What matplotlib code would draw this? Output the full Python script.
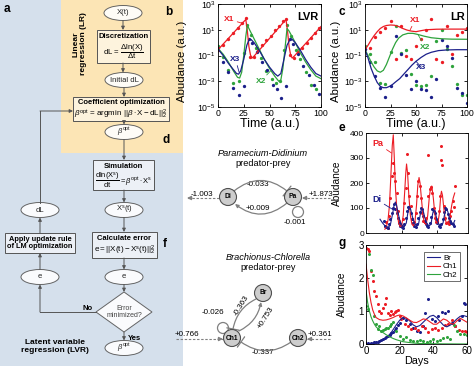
import matplotlib
matplotlib.use('Agg')
import matplotlib.pyplot as plt
import numpy as np
from matplotlib.patches import Ellipse, Rectangle, Polygon, Circle, FancyArrowPatch, ArrowStyle

plt.rcParams['font.family'] = ['Liberation Sans', 'DejaVu Sans']
plt.rcParams['mathtext.fontset'] = 'custom'
plt.rcParams['mathtext.rm'] = 'Liberation Sans'
plt.rcParams['mathtext.it'] = 'Liberation Sans:italic'
plt.rcParams['mathtext.bf'] = 'Liberation Sans:bold'

RED = '#ec1c24'
GREEN = '#2ea33c'
BLUE = '#1b1f8a'

# ---- panel b (LVR fit), values as log10 ----
b_t1 = [0, 27, 28.5, 30, 31.5, 33, 35, 66, 67.5, 69, 70.5, 72, 74, 100]
b_x1 = [-0.55, 1.8, 0.9, -0.3, -0.95, -1.2, -1.05, 1.8, 0.9, -0.3, -0.95, -1.2, -1.05, 1.25]
b_t2 = [0, 5, 10, 15, 19, 21, 23, 25, 27, 28.5, 30, 35, 40, 45, 50, 55, 59, 61, 63, 65, 67, 69, 75, 80, 85, 90, 95, 100]
b_x2 = [-0.45, -0.9, -1.5, -2.2, -2.7, -2.75, -2.3, -1.0, 0.5, 1.35, 1.1, 0.3, -0.5, -1.3, -2.0, -2.6, -3.0, -2.9, -2.0, -0.5, 1.1, 0.9, 0.0, -0.8, -1.5, -2.1, -2.6, -2.8]
b_t3 = [0, 5, 10, 15, 18, 20, 22, 25, 28, 30, 32, 35, 40, 45, 50, 55, 58, 61, 64, 67, 70, 72, 75, 80, 85, 90, 95, 100]
b_x3 = [-0.5, -1.0, -1.6, -2.1, -2.4, -2.45, -2.2, -1.3, -0.2, 0.2, 0.25, 0.0, -0.6, -1.3, -1.9, -2.4, -2.6, -2.4, -1.3, -0.2, 0.25, 0.25, 0.0, -0.6, -1.3, -1.9, -2.4, -2.6]
b_d1t = [0, 5, 10, 15, 19, 23, 27, 31, 35, 39, 43, 47, 51, 55, 59, 63, 66, 70, 74, 78, 82, 86, 90, 94, 98]
b_d1 = [-0.55, -0.15, 0.3, 0.75, 1.15, 1.5, 1.9, -1.1, -1.1, -0.6, -0.2, 0.2, 0.55, 0.95, 1.3, 1.65, 1.85, -0.95, -1.2, -0.7, -0.4, 0.0, 0.35, 0.75, 1.15]
b_d2t = [0, 5, 10, 15, 20, 25, 28, 32, 37, 42, 47, 52, 56, 60, 64, 67, 71, 76, 80, 85, 90, 95]
b_d2 = [-0.3, -1.1, -2.1, -3.1, -3.0, -0.8, 1.4, 0.6, -0.4, -1.2, -2.2, -2.8, -3.1, -3.0, -0.6, 1.4, 0.5, -0.6, -1.3, -2.3, -3.3, -3.6]
b_d3t = [0, 5, 10, 15, 20, 25, 30, 33, 38, 43, 48, 53, 57, 61, 66, 70, 73, 78, 83, 88, 93, 98]
b_d3 = [-0.4, -1.5, -2.3, -3.5, -4.1, -3.4, 0.3, 0.0, -0.7, -1.5, -2.1, -3.3, -3.6, -4.3, -3.4, 0.3, -0.1, -0.9, -1.8, -2.5, -3.3, -4.0]

# ---- panel c (LR fit), values as log10 ----
c_t1 = [0, 3, 6, 9, 12, 15, 18, 21, 25, 29, 33, 37, 41, 45, 50, 55, 60, 70, 80, 100]
c_x1 = [-0.55, -0.2, 0.2, 0.55, 0.85, 1.1, 1.25, 1.33, 1.37, 1.35, 1.25, 1.1, 0.98, 0.9, 0.85, 0.93, 1.0, 1.04, 1.05, 1.05]
c_t2 = [0, 3, 6, 9, 12, 15, 18, 21, 24, 27, 30, 33, 37, 42, 47, 52, 58, 65, 75, 85, 100]
c_x2 = [-0.55, -1.0, -1.5, -1.9, -2.2, -2.3, -2.15, -1.7, -1.1, -0.5, 0.0, 0.35, 0.6, 0.72, 0.72, 0.63, 0.5, 0.38, 0.3, 0.27, 0.26]
c_t3 = [0, 3, 6, 9, 12, 15, 18, 21, 24, 27, 30, 34, 38, 42, 46, 50, 55, 60, 65, 72, 80, 90, 100]
c_x3 = [-0.55, -1.2, -2.0, -2.6, -3.1, -3.4, -3.5, -3.5, -3.4, -3.25, -3.05, -2.8, -2.45, -2.1, -1.75, -1.45, -1.15, -0.9, -0.75, -0.62, -0.57, -0.55, -0.55]
c_dt = [0, 5, 10, 15, 20, 25, 30, 35, 40, 45, 50, 55, 60, 65, 70, 75, 80, 85, 90, 95, 100]
c_d1 = [-0.5, -0.45, 0.4, 0.85, 1.1, 1.7, -1.3, 1.3, -1.0, -1.3, -0.3, 0.3, 1.0, 1.8, -1.3, -1.5, 1.3, -0.9, 0.6, 0.8, 1.1]
c_d2 = [-0.3, -0.9, -1.5, -3.1, -3.2, -0.7, 1.3, -0.8, -0.6, -2.4, -3.3, -3.4, -3.3, -2.6, 0.1, 1.0, -0.5, -1.8, -3.2, -4.1, -4.1]
c_d3 = [-0.5, -1.5, -2.6, -3.5, -4.2, -3.4, 0.5, -0.9, -2.5, -3.6, -3.0, -3.6, -3.7, -4.2, -2.8, 0.2, -0.3, -1.2, -3.5, -3.9, -4.7]

# ---- panel e (Paramecium / Didinium) ----
e_pa_t = [7.4, 8.0, 8.6, 9.2, 9.8, 10.3, 10.7, 11.1, 11.6, 12.2, 12.8, 13.4, 14.0, 14.6, 15.2, 15.6, 15.9, 16.3, 16.8, 17.4, 18.0, 18.6, 19.2, 19.8, 20.3, 20.8, 21.2, 21.8, 22.4, 23.0, 23.6, 24.2, 24.8, 25.3, 25.8, 26.4, 27.0, 27.6, 28.2, 28.8, 29.3, 29.6, 30.0, 30.6, 31.2, 31.8, 32.4, 33.0, 33.6, 34.2, 34.8]
e_pa = [15, 25, 50, 110, 240, 350, 393, 300, 170, 80, 40, 25, 30, 70, 170, 240, 276, 240, 150, 70, 35, 28, 45, 110, 190, 222, 200, 130, 65, 38, 35, 70, 140, 180, 188, 140, 75, 40, 40, 80, 150, 167, 150, 90, 50, 35, 40, 70, 110, 140, 160]
e_di_t = [5.5, 6.5, 7.5, 8.5, 9.5, 10.3, 11.0, 11.5, 12.0, 12.7, 13.4, 14.2, 15.0, 15.8, 16.4, 16.9, 17.5, 18.2, 19.0, 19.8, 20.6, 21.3, 21.8, 22.4, 23.1, 23.9, 24.7, 25.5, 26.0, 26.5, 27.1, 27.8, 28.6, 29.4, 30.2, 30.9, 31.5, 32.1, 32.8, 33.6, 34.4, 34.8]
e_di = [55, 40, 28, 22, 30, 70, 110, 124, 110, 75, 45, 30, 25, 40, 80, 107, 95, 65, 40, 28, 35, 75, 100, 90, 60, 38, 28, 35, 70, 93, 85, 55, 35, 28, 40, 80, 100, 85, 55, 35, 40, 50]
e_pa_dt = [7.5, 8.0, 8.5, 9.0, 9.5, 10.0, 10.5, 11.0, 11.5, 12.0, 12.5, 13.0, 13.5, 14.0, 14.5, 15.0, 15.5, 16.0, 16.5, 17.0, 17.5, 18.0, 18.5, 19.0, 19.5, 20.0, 20.5, 21.0, 21.5, 22.0, 22.5, 23.0, 23.5, 24.4, 24.5, 25.0, 25.5, 26.0, 26.5, 27.0, 27.5, 28.0, 28.5, 29.0, 29.3, 29.5, 29.7, 30.5, 31.0, 31.5, 32.0, 32.5, 33.0, 33.5, 34.0, 34.5, 34.8]
e_pa_d = [30, 45, 20, 70, 140, 230, 280, 240, 210, 160, 90, 50, 35, 30, 55, 120, 180, 316, 240, 150, 110, 55, 40, 45, 80, 150, 210, 190, 140, 80, 50, 45, 60, 313, 150, 175, 185, 160, 100, 60, 45, 50, 90, 150, 347, 293, 273, 110, 60, 40, 45, 35, 70, 90, 130, 105, 187]
e_di_dt = [7.0, 7.5, 8.0, 8.5, 9.0, 9.5, 10.0, 10.5, 11.0, 11.5, 12.0, 12.5, 13.0, 13.5, 14.0, 14.5, 15.0, 15.5, 16.0, 16.5, 17.0, 17.5, 18.0, 18.5, 19.0, 19.5, 20.0, 20.5, 21.0, 21.5, 22.0, 22.5, 23.0, 23.5, 24.0, 24.5, 25.0, 25.5, 26.0, 26.5, 27.0, 27.5, 28.0, 28.5, 29.0, 29.5, 30.0, 30.5, 31.0, 31.5, 32.0, 32.5, 33.0, 33.5, 34.0, 34.5]
e_di_d = [50, 30, 25, 20, 35, 55, 80, 100, 115, 95, 80, 60, 40, 30, 25, 20, 35, 60, 90, 105, 100, 80, 55, 40, 30, 25, 35, 60, 85, 100, 95, 70, 50, 35, 30, 25, 40, 65, 95, 90, 80, 55, 40, 30, 25, 35, 55, 85, 100, 95, 75, 60, 50, 40, 35, 30]

# ---- panel g (Brachionus / Chlorella) ----
g_br_t = [0, 3, 6, 9, 12, 15, 18, 20, 22, 24, 26, 28, 30, 32, 34, 36, 38, 40, 42, 44, 46, 48, 50, 52, 54, 56, 58, 60]
g_br = [0.0, 0.0, 0.02, 0.08, 0.18, 0.35, 0.58, 0.72, 0.8, 0.78, 0.7, 0.58, 0.52, 0.56, 0.66, 0.76, 0.84, 0.87, 0.8, 0.68, 0.57, 0.52, 0.57, 0.66, 0.76, 0.84, 0.86, 0.83]
g_ch1_t = [0, 1, 2, 3, 4, 5, 6, 8, 10, 12, 14, 16, 18, 20, 22, 24, 26, 28, 30, 32, 34, 36, 38, 40, 42, 44, 46, 48, 50, 52, 54, 56, 58, 60]
g_ch1 = [2.42, 1.95, 1.55, 1.25, 1.03, 0.9, 0.8, 0.74, 0.72, 0.73, 0.76, 0.8, 0.85, 0.88, 0.85, 0.79, 0.72, 0.66, 0.65, 0.7, 0.76, 0.74, 0.67, 0.6, 0.6, 0.68, 0.76, 0.72, 0.63, 0.6, 0.7, 0.78, 0.72, 0.66]
g_ch2_t = [0, 1, 2, 3, 4, 5, 6, 8, 10, 12, 14, 16, 18, 20, 22, 25, 28, 32, 38, 45, 60]
g_ch2 = [1.62, 1.25, 1.0, 0.82, 0.7, 0.6, 0.52, 0.42, 0.35, 0.28, 0.22, 0.17, 0.13, 0.1, 0.07, 0.05, 0.03, 0.015, 0.01, 0.005, 0.0]
g_br_dt = [1, 2, 3, 4, 5, 6, 7, 8, 9, 10, 11, 12, 13, 14, 15, 16, 17, 18, 19, 20, 22, 24, 26, 28, 30, 32, 34, 35, 37, 39, 41, 43, 45, 47, 49, 51, 53, 55, 57, 58, 59]
g_br_d = [0.02, 0.0, 0.03, 0.02, 0.05, 0.06, 0.07, 0.08, 0.12, 0.14, 0.18, 0.22, 0.25, 0.28, 0.32, 0.35, 0.42, 0.5, 0.58, 0.65, 0.8, 0.72, 0.6, 0.5, 0.4, 0.35, 0.55, 0.95, 1.35, 0.75, 0.7, 0.85, 0.98, 0.95, 1.0, 0.65, 0.55, 0.72, 0.85, 1.25, 1.2]
g_ch1_dt = [0, 1, 2, 3, 4, 5, 6, 7, 8, 9, 10, 11, 12, 13, 14, 15, 16, 17, 18, 19, 20, 21, 23, 25, 27, 29, 31, 33, 35, 37, 39, 41, 43, 45, 47, 49, 51, 53, 55, 57, 59, 60]
g_ch1_d = [2.9, 2.88, 2.82, 2.2, 1.9, 1.6, 1.45, 1.2, 1.0, 0.95, 1.1, 1.2, 1.38, 0.95, 0.88, 1.0, 0.9, 0.98, 1.0, 1.02, 0.85, 0.75, 0.62, 0.55, 0.45, 0.5, 0.42, 0.55, 0.5, 0.35, 0.45, 0.5, 0.42, 0.48, 0.58, 0.62, 0.72, 0.55, 0.42, 0.4, 0.38, 0.35]
g_ch2_dt = [0, 1, 2, 3, 4, 5, 6, 7, 8, 9, 10, 11, 12, 13, 14, 15, 16, 18, 20, 22, 24, 26, 28, 30, 32, 34, 36, 38, 40, 42, 44, 46, 48, 50, 52, 54, 56, 58, 60]
g_ch2_d = [1.15, 1.05, 2.72, 2.25, 2.1, 0.85, 0.6, 0.45, 0.55, 0.4, 0.42, 0.45, 0.5, 0.48, 0.55, 0.6, 0.68, 0.38, 0.25, 0.15, 0.2, 0.12, 0.1, 0.08, 0.12, 0.1, 0.05, 0.08, 0.15, 0.1, 0.12, 0.18, 0.2, 0.15, 0.58, 0.38, 0.3, 0.3, 0.28]

W, H = 474, 369
fig = plt.figure(figsize=(W / 100, H / 100), dpi=100)
ov = fig.add_axes([0, 0, 1, 1])
ov.set_xlim(0, W)
ov.set_ylim(H, 0)
ov.axis('off')


def px_axes(l, t, r, b):
    return fig.add_axes([l / W, 1 - b / H, (r - l) / W, (b - t) / H])


# ================= panel a: flowchart =================
GR = '#555555'
ov.add_patch(Rectangle((0, 0), 183, 366, fc='#d5e0ec', ec='none'))
ov.add_patch(Rectangle((61, 0), 122, 153, fc='#fce5b5', ec='none'))
ov.text(4, 9, 'a', fontsize=8.5, fontweight='bold', va='center')


def ell(cx, cy, txt, w=38, h=15):
    ov.add_patch(Ellipse((cx, cy), w, h, fc='white', ec=GR, lw=0.7, alpha=0.9))
    ov.text(cx, cy, txt, ha='center', va='center', fontsize=5.5, color='#222')


def box(x0, y0, x1, y1):
    ov.add_patch(Rectangle((x0, y0), x1 - x0, y1 - y0, fc='white', alpha=0.55, ec='none'))
    ov.add_patch(Rectangle((x0, y0), x1 - x0, y1 - y0, fc='none', ec=GR, lw=0.7))


def arr(x0, y0, x1, y1):
    ov.annotate('', xy=(x1, y1), xytext=(x0, y0),
                arrowprops=dict(arrowstyle='-|>', color=GR, lw=0.7, mutation_scale=5,
                                shrinkA=0, shrinkB=0))


ell(123, 13, 'X(t)')
arr(123, 20.5, 123, 30)
box(97, 30, 150, 63)
ov.text(123.5, 37, 'Discretization', ha='center', va='center', fontsize=5.5, fontweight='bold')
ov.text(123.5, 52, r'dL = $\dfrac{\Delta\mathrm{ln(X)}}{\Delta\mathrm{t}}$', ha='center', va='center', fontsize=5.6)
arr(123, 63, 123, 72.5)
ell(124, 80, 'Initial dL')
arr(124, 87.5, 124, 97)
box(73, 97, 169, 121)
ov.text(121, 103, 'Coefficient optimization', ha='center', va='center', fontsize=5.5, fontweight='bold')
ov.text(121, 114, r'$\beta^{\mathrm{opt}}$ = argmin $||\beta\cdot\mathrm{X}-\mathrm{dL}||_2^2$',
        ha='center', va='center', fontsize=5.8)
arr(124, 121, 124, 124.5)
ell(124, 132, r'$\beta^{\mathrm{opt}}$')
arr(124, 139.5, 124, 160)
box(93, 160, 154, 190)
ov.text(123.5, 166, 'Simulation', ha='center', va='center', fontsize=5.5, fontweight='bold')
ov.text(123.5, 180, r'$\dfrac{\mathrm{dln(X^s)}}{\mathrm{dt}}=\beta^{\mathrm{opt}}\cdot\mathrm{X^s}$',
        ha='center', va='center', fontsize=5.4)
arr(124, 190, 124, 202.5)
ell(124, 210, r'X$^{\mathrm{s}}$(t)')
arr(124, 217.5, 124, 232)
box(92, 232, 157, 258)
ov.text(124.5, 238, 'Calculate error', ha='center', va='center', fontsize=5.5, fontweight='bold')
ov.text(124.5, 250, r'$\mathrm{e}=||\mathrm{X(t)}-\mathrm{X^s(t)}||_2^2$', ha='center', va='center', fontsize=5.8)
arr(124, 258, 124, 269.5)
ell(124, 277, 'e')
arr(124, 284.5, 124, 292)
ov.add_patch(Polygon([(124, 292), (152, 312), (124, 332), (96, 312)], closed=True,
                     fc='white', ec=GR, lw=0.7, alpha=0.9))
ov.text(124, 312, 'Error\nminimized?', ha='center', va='center', fontsize=5, color='#444',
        linespacing=1.0)
ov.text(88, 309, 'No', ha='center', va='center', fontsize=5.5, fontweight='bold')
ov.plot([96, 40], [312, 312], color=GR, lw=0.7)
arr(40, 312, 40, 284.5)
ell(40, 277, 'e')
arr(40, 269.5, 40, 253)
box(5, 233, 75, 253)
ov.text(40, 243, 'Apply update rule\nof LM optimization', ha='center', va='center', fontsize=5.3,
        fontweight='bold', linespacing=1.1)
arr(40, 233, 40, 217.5)
ell(40, 210, 'dL')
ov.plot([40, 40], [202.5, 111], color=GR, lw=0.7)
arr(40, 111, 73, 111)
ov.text(135, 338, 'Yes', ha='center', va='center', fontsize=5.5, fontweight='bold')
arr(124, 332, 124, 340.5)
ell(124, 348, r'$\beta^{\mathrm{opt}}$')
ov.text(55, 346, 'Latent variable\nregression (LVR)', ha='center', va='center', fontsize=6,
        fontweight='bold', linespacing=1.2)
ov.text(80, 44, 'Linear\nregression (LR)', ha='center', va='center', fontsize=6,
        fontweight='bold', rotation=90, linespacing=1.1)

# ================= panels d and f: networks =================
EG = '#808080'
INH = ArrowStyle('-[', widthB=0.9, lengthB=0.01)


def node(cx, cy, txt):
    ov.add_patch(Circle((cx, cy), 8.5, fc='#cdcdcd', ec='#505050', lw=0.8, zorder=5))
    ov.text(cx, cy, txt, ha='center', va='center', fontsize=4.8, fontweight='bold', zorder=6)


def edge(p0, p1, rad, inhibit):
    st = INH if inhibit else '-|>'
    ov.add_patch(FancyArrowPatch(p0, p1, connectionstyle='arc3,rad=%s' % rad, arrowstyle=st,
                                 mutation_scale=5, color=EG, lw=0.9, shrinkA=0, shrinkB=0, zorder=4))


def dash_in(x0, x1, y):
    ov.plot([x0, x1], [y, y], ls=(0, (2.2, 1.5)), color=EG, lw=0.8)
    ov.annotate('', xy=(x1, y), xytext=(x1 + np.sign(x0 - x1) * 5, y),
                arrowprops=dict(arrowstyle='-|>', color=EG, lw=0.8, mutation_scale=6,
                                shrinkA=0, shrinkB=0))


ov.text(163, 140, 'd', fontsize=8.5, fontweight='bold', va='center')
ov.text(263, 153, 'Paramecium-Didinium', ha='center', va='center', fontsize=6.6, style='italic')
ov.text(263, 163.5, 'predator-prey', ha='center', va='center', fontsize=6.6)
edge((234, 191), (287, 191), -0.4, True)
edge((287, 203), (235, 204), -0.4, False)
ov.add_patch(Circle((298, 212), 5.5, fc='none', ec=EG, lw=0.9, zorder=3))
node(228, 197, 'Di')
node(293, 197, 'Pa')
ov.text(258, 184, '-0.033', ha='center', va='center', fontsize=5.8)
ov.text(258, 209, '+0.009', ha='center', va='center', fontsize=5.8)
ov.text(295, 223, '-0.001', ha='center', va='center', fontsize=5.8)
dash_in(219, 187, 198)
ov.text(202, 194, '-1.003', ha='center', va='center', fontsize=5.8)
dash_in(330, 302, 198)
ov.text(321, 194, '+1.873', ha='center', va='center', fontsize=5.8)

ov.text(163, 244, 'f', fontsize=8.5, fontweight='bold', va='center')
ov.text(268, 257, 'Brachionus-Chlorella', ha='center', va='center', fontsize=6.6, style='italic')
ov.text(268, 267.5, 'predator-prey', ha='center', va='center', fontsize=6.6)
edge((256, 299), (233, 329), 0.25, True)
edge((239, 331), (261, 302), 0.25, False)
ov.add_patch(Circle((223, 328), 5.5, fc='none', ec=EG, lw=0.9, zorder=3))
edge((291, 342), (241, 342), -0.35, True)
node(263, 293, 'Br')
node(232, 338, 'Ch1')
node(298, 338, 'Ch2')
ov.text(241, 306, '-0.363', ha='center', va='center', fontsize=5.8, rotation=58)
ov.text(266, 318, '+0.753', ha='center', va='center', fontsize=5.8, rotation=58)
ov.text(213, 313, '-0.026', ha='center', va='center', fontsize=5.8)
ov.text(263, 353, '-0.337', ha='center', va='center', fontsize=5.8)
dash_in(176, 223, 339)
ov.text(187, 334, '+0.766', ha='center', va='center', fontsize=5.8)
dash_in(330, 307, 339)
ov.text(320, 334, '+0.361', ha='center', va='center', fontsize=5.8)


# ================= data panels =================
def style(ax, fs=6.3):
    ax.tick_params(which='both', direction='in', length=2.5, width=0.6, labelsize=fs, pad=1.5,
                   top=True, right=True)
    for s in ax.spines.values():
        s.set_linewidth(0.6)


def lg(v):
    return 10.0 ** np.array(v)


for (l, r, letter, lx, txt, lines, dots) in [
        (218, 321, 'b', 165, 'LVR', [(b_t1, b_x1), (b_t2, b_x2), (b_t3, b_x3)],
         [(b_d1t, b_d1), (b_d2t, b_d2), (b_d3t, b_d3)]),
        (365, 467, 'c', 339, 'LR', [(c_t1, c_x1), (c_t2, c_x2), (c_t3, c_x3)],
         [(c_dt, c_d1), (c_dt, c_d2), (c_dt, c_d3)])]:
    ax = px_axes(l, 4, r, 107)
    for (tt, vv), col in zip(dots, [RED, GREEN, BLUE]):
        ax.plot(tt, lg(vv), 'o', color=col, ms=2.4, mec='none')
    for (tt, vv), col in zip(lines, [RED, GREEN, BLUE]):
        ax.plot(tt, lg(vv), '-', color=col, lw=0.9)
    ax.set_yscale('log')
    ax.set_ylim(1e-5, 1e3)
    ax.set_xlim(0, 100)
    ax.set_yticks([1e-5, 1e-3, 1e-1, 1e1, 1e3])
    ax.yaxis.set_minor_locator(matplotlib.ticker.NullLocator())
    ax.set_xticks([0, 25, 50, 75, 100])
    style(ax)
    ax.set_xlabel('Time (a.u.)', fontsize=9, labelpad=0)
    ax.set_ylabel('Abudance (a.u.)', fontsize=8.2)
    ax.yaxis.set_label_coords(-0.30 if letter == 'b' else -0.235, 0.44)
    ax.text(0.98, 0.87, txt, transform=ax.transAxes, ha='right', va='center', fontsize=8,
            fontweight='bold')
    ov.text(lx, 12, letter, fontsize=8.5, fontweight='bold', va='center')
    if letter == 'b':
        ax.annotate('X1', xy=(23.7, lg(1.5)), xytext=(11, lg(1.8)), color=RED, fontsize=6,
                    fontweight='bold', ha='center', va='center',
                    arrowprops=dict(arrowstyle='-', color=RED, lw=0.6, shrinkA=0, shrinkB=0))
        ax.annotate('X3', xy=(20.5, lg(-2.3)), xytext=(17, lg(-1.3)), color=BLUE, fontsize=6,
                    fontweight='bold', ha='center', va='center',
                    arrowprops=dict(arrowstyle='-', color=BLUE, lw=0.6, shrinkA=0, shrinkB=0))
        ax.annotate('X2', xy=(51, lg(-2.2)), xytext=(41.5, lg(-3.0)), color=GREEN, fontsize=6,
                    fontweight='bold', ha='center', va='center',
                    arrowprops=dict(arrowstyle='-', color=GREEN, lw=0.6, shrinkA=0, shrinkB=0))
    else:
        ax.annotate('X1', xy=(44, lg(0.95)), xytext=(49, lg(1.75)), color=RED, fontsize=6,
                    fontweight='bold', ha='center', va='center',
                    arrowprops=dict(arrowstyle='-', color=RED, lw=0.6, shrinkA=0, shrinkB=0))
        ax.annotate('X2', xy=(52, lg(0.62)), xytext=(59, lg(-0.35)), color=GREEN, fontsize=6,
                    fontweight='bold', ha='center', va='center',
                    arrowprops=dict(arrowstyle='-', color=GREEN, lw=0.6, shrinkA=0, shrinkB=0))
        ax.annotate('X3', xy=(50, lg(-1.45)), xytext=(55, lg(-1.9)), color=BLUE, fontsize=6,
                    fontweight='bold', ha='center', va='center',
                    arrowprops=dict(arrowstyle='-', color=BLUE, lw=0.6, shrinkA=0, shrinkB=0))

# panel e
ax = px_axes(366, 133, 468, 233)
ax.plot(e_pa_dt, e_pa_d, 'o', color=RED, ms=2.2, mec='none')
ax.plot(e_di_dt, e_di_d, 'o', color=BLUE, ms=2.2, mec='none')
ax.plot(e_pa_t, e_pa, '-', color=RED, lw=0.8)
ax.plot(e_di_t, e_di, '-', color=BLUE, lw=0.8)
ax.set_xlim(0, 40)
ax.set_ylim(0, 400)
ax.set_xticks([14, 28])
ax.set_xticklabels([])
ax.set_yticks([0, 100, 200, 300, 400])
style(ax, 6)
ax.set_ylabel('Abudance', fontsize=7.3)
ax.yaxis.set_label_coords(-0.235, 0.5)
ax.annotate('Pa', xy=(10, 320), xytext=(4.8, 356), color=RED, fontsize=6.5, fontweight='bold',
            ha='center', va='center',
            arrowprops=dict(arrowstyle='-', color=RED, lw=0.6, shrinkA=0, shrinkB=0))
ax.annotate('Di', xy=(10.7, 93), xytext=(4.3, 133), color=BLUE, fontsize=6.5, fontweight='bold',
            ha='center', va='center',
            arrowprops=dict(arrowstyle='-', color=BLUE, lw=0.6, shrinkA=0, shrinkB=0))
ov.text(339, 128, 'e', fontsize=8.5, fontweight='bold', va='center')

# panel g
ax = px_axes(366, 245, 467, 344)
ax.plot(g_br_dt, g_br_d, 'o', color=BLUE, ms=2.2, mec='none')
ax.plot(g_ch1_dt, g_ch1_d, 'o', color=RED, ms=2.2, mec='none')
ax.plot(g_ch2_dt, g_ch2_d, 'o', color=GREEN, ms=2.2, mec='none')
ax.plot(g_br_t, g_br, '-', color=BLUE, lw=0.8, label='Br')
ax.plot(g_ch1_t, g_ch1, '-', color=RED, lw=0.8, label='Ch1')
ax.plot(g_ch2_t, g_ch2, '-', color=GREEN, lw=0.8, label='Ch2')
ax.set_xlim(0, 60)
ax.set_ylim(0, 3)
ax.set_xticks([0, 20, 40, 60])
ax.set_yticks([0, 1, 2, 3])
style(ax, 7)
ax.set_xlabel('Days', fontsize=7.8, labelpad=0)
ax.set_ylabel('Abudance', fontsize=7.3)
ax.yaxis.set_label_coords(-0.19, 0.5)
leg = ax.legend(loc='upper right', bbox_to_anchor=(0.93, 0.93), fontsize=5.8, frameon=True,
                fancybox=False, edgecolor='black', handlelength=1.6, borderpad=0.3,
                labelspacing=0.1, handletextpad=0.4, borderaxespad=0)
leg.get_frame().set_linewidth(0.5)
ov.text(339, 243, 'g', fontsize=8.5, fontweight='bold', va='center')

fig.savefig('out.png', dpi=100)
